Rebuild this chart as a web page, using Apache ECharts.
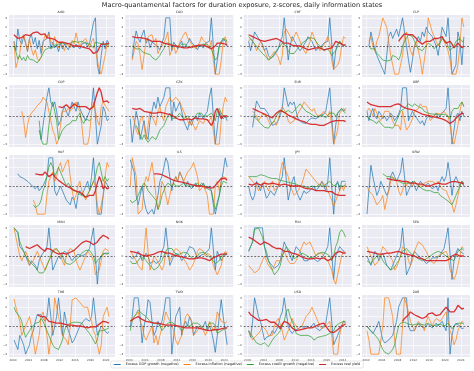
<!DOCTYPE html>
<html><head><meta charset="utf-8">
<script src="https://cdn.jsdelivr.net/npm/echarts@6/dist/echarts.min.js"></script>
<style>html,body{margin:0;padding:0;background:#fff}#c{width:474px;height:371px}</style>
</head><body><div id="c"></div>
<script>
const n = null;
const MAIN_TITLE = 'Macro-quantamental factors for duration exposure, z-scores, daily information states';
const SERIES_NAMES = ['Excess GDP growth (negative)','Excess inflation (negative)','Excess credit growth (negative)','Excess real yield'];
const NAMES = ['AUD','CAD','CHF','CLP','COP','CZK','EUR','GBP','HUF','ILS','JPY','KRW','MXN','NOK','PLN','SEK','THB','TWD','USD','ZAR'];
const X_TICKS = [2000,2004,2008,2012,2016,2020,2024];
const Y_TICKS = [-3,-2,-1,0,1,2,3];
const DATES = [2000.25,2000.75,2001.25,2001.75,2002.25,2002.75,2003.25,2003.75,2004.25,2004.75,
 2005.25,2005.75,2006.25,2006.75,2007.25,2007.75,2008.25,2008.75,2009.25,2009.75,
 2010.25,2010.75,2011.25,2011.75,2012.25,2012.75,2013.25,2013.75,2014.25,2014.75,
 2015.25,2015.75,2016.25,2016.75,2017.25,2017.75,2018.25,2018.75,2019.25,2019.75,
 2020.25,2020.75,2021.25,2021.75,2022.25,2022.75,2023.25,2023.75,2024.25,2024.75];

const AUD_GDP=[0.5,-0.5,1.8,0.6,0.2,1.0,0.3,-0.6,0.8,1.2, 0.2,0.9,-0.3,0.6,-0.8,0.5,0.4,0.8,1.5,-0.3, 0.4,-0.2,0.1,-0.6,0.3,-0.3,0.2,0.0,-0.4,0.1, 0.3,-0.2,0.2,0.0,-0.3,0.2,0.1,0.4,-0.1,0.3, 0.3,2.5,3.0,-2.0,-3.0,-1.0,0.5,-0.3,0.6,0.3];
const AUD_INF=[0.5,-2.3,-2.4,-0.8,0.9,1.2,0.4,-0.6,0.8,-0.3, -1.0,-0.4,-1.3,-1.6,-1.2,0.2,1.2,0.8,1.3,0.5, 0.2,1.0,0.3,-0.2,0.4,0.0,-0.5,0.3,0.1,-0.2, 0.6,0.2,1.4,0.5,-0.1,0.4,0.2,0.8,1.0,-0.2, 0.5,0.8,-0.5,-1.5,-2.5,-3.0,-3.0,-1.0,0.2,0.0];
const AUD_CRD=[0.0,-0.6,-1.4,-1.0,-1.5,-1.2,-1.6,-1.0,-1.4,-1.2, -1.5,-1.7,-1.8,-1.6,-1.2,-0.8,-0.4,-0.6,-0.2,0.0, -0.2,0.1,-0.1,0.2,0.0,0.3,0.1,0.2,0.4,0.3, 0.2,0.5,0.3,0.4,0.2,0.5,0.6,0.3,0.4,0.2, 0.0,-0.2,0.4,0.6,0.3,0.5,0.2,0.4,0.1,0.2];
const AUD_RYL=[1.2,1.0,0.8,0.7,0.9,1.1,1.2,1.0,1.1,1.3, 1.4,1.5,1.5,1.6,1.2,1.0,1.3,0.9,0.7,0.8, 0.6,0.7,0.5,0.4,0.3,0.4,0.2,0.3,0.1,0.2, 0.1,0.0,0.1,0.0,0.1,-0.1,0.0,-0.2,-0.1,-0.3, -0.5,-0.8,-1.0,-0.6,-0.2,0.2,0.3,0.2,0.4,0.3];

const CAD_GDP=[n,-1.3,0.5,1.6,0.8,0.4,1.2,1.7,0.3,0.8, -0.2,0.4,0.6,0.1,0.0,-0.4,0.3,0.9,3.0,3.0, 3.0,-0.5,0.4,0.1,-0.3,0.2,0.5,-0.2,0.0,0.3, 0.8,0.4,0.2,-0.1,-0.4,0.1,0.0,-0.2,0.3,0.1, 0.5,3.0,3.0,-3.0,-1.5,0.0,0.3,0.8,0.5,0.0];
const CAD_INF=[n,-1.5,-0.5,0.5,0.2,-1.0,-2.5,-1.0,0.5,1.0, 0.8,1.2,0.4,0.8,-0.8,-0.3,-0.5,0.3,0.8,1.5, -1.0,-0.4,0.0,-0.8,-0.3,0.4,0.8,1.2,1.5,0.9, 0.5,0.2,0.0,-0.3,-0.5,0.3,1.0,0.6,0.5,0.2, -0.2,0.6,-1.5,-3.0,-3.0,-3.0,-1.5,0.5,1.0,0.3];
const CAD_CRD=[n,0.0,-0.2,-0.3,-0.5,-0.3,-0.6,-0.8,-0.8,-1.0, -0.9,-1.2,-1.3,-1.5,-1.4,-1.0,-0.6,-0.3,0.3,0.5, 0.3,0.0,-0.2,0.1,-0.2,0.0,0.2,0.1,0.2,-0.1, -0.3,-0.2,-0.3,0.0,0.1,0.0,0.0,0.2,0.2,0.1, 0.2,-0.3,-0.5,-1.5,-1.2,0.0,0.5,0.8,0.8,0.5];
const CAD_RYL=[n,1.0,1.1,0.9,0.8,0.9,0.7,0.8,0.6,0.7, 0.6,0.5,0.6,0.5,0.4,0.5,0.5,0.3,0.4,0.2, 0.2,0.1,0.2,0.0,0.0,-0.1,0.0,-0.2,-0.1,-0.2, -0.2,-0.1,-0.2,0.0,0.0,0.1,0.0,0.1,0.0,-0.1, -0.2,-0.3,-0.3,0.0,0.3,0.4,0.3,0.2,0.2,0.1];

const CHF_GDP=[0.5,-0.5,-0.5,1.5,1.5,0.8,1.0,0.2,-0.5,-0.2, -1.0,-1.3,-1.5,-1.0,-0.8,-0.3,0.5,1.0,3.0,3.0, -1.5,0.0,1.0,0.6,0.5,-0.2,-0.5,-0.2,0.0,0.5, 1.0,0.8,0.5,0.0,-0.5,-0.2,-0.3,0.0,0.3,0.2, 0.5,3.0,3.0,-2.5,-0.5,0.2,0.5,0.3,0.0,0.2];
const CHF_INF=[0.5,0.8,1.0,0.2,-0.5,0.0,0.5,0.0,-0.5,-1.0, -1.5,-1.2,-1.0,-0.6,-0.5,-1.2,-2.0,-1.0,1.5,1.8, 2.0,1.0,0.5,1.0,1.5,1.0,0.5,0.0,-0.5,-0.8, -1.0,0.5,1.5,1.0,0.5,0.0,-0.5,-0.2,0.0,0.5, 1.0,0.3,-1.5,-2.5,-2.5,-2.0,-1.5,0.0,1.0,0.8];
const CHF_CRD=[1.0,0.8,0.5,0.2,0.0,-0.3,-0.5,-0.8,-1.0,-1.2, -1.5,-1.4,-1.2,-0.8,-0.5,-0.2,0.0,0.3,0.5,0.0, -0.5,-0.8,-1.0,-0.8,-0.5,-0.2,0.0,0.3,0.5,0.6, 0.8,0.9,1.0,0.8,0.5,0.2,0.0,-0.2,-0.5,-0.4, -0.3,-0.6,-1.0,-0.8,-0.5,0.0,0.5,0.3,0.0,0.1];
const CHF_RYL=[1.2,1.1,1.0,0.9,0.8,0.7,0.6,0.5,0.5,0.6, 0.6,0.7,0.7,0.8,0.8,0.7,0.6,0.4,0.3,0.3, 0.3,0.2,0.1,0.0,0.0,0.1,0.0,-0.1,-0.2,-0.3, -0.4,-0.4,-0.3,-0.3,-0.2,-0.2,-0.2,-0.3,-0.4,-0.4, -0.3,-0.3,-0.2,0.1,0.5,0.4,0.3,0.2,0.1,0.1];

const CLP_GDP=[n,0.0,1.5,0.5,-0.5,-1.0,-1.0,-2.0,-2.5,-3.0, -1.0,1.0,1.5,0.8,1.0,1.8,1.0,2.0,3.0,3.0, 0.0,-1.5,-2.8,-1.5,0.0,0.5,1.0,0.5,1.5,1.0, 2.0,1.5,1.5,1.0,0.5,0.0,-1.0,0.5,2.0,1.5, 1.0,3.0,3.0,-3.0,-3.0,-2.0,1.5,0.5,-2.0,1.0];
const CLP_INF=[n,0.5,1.0,0.0,-0.5,0.5,1.0,2.0,3.0,3.0, 2.0,0.5,-1.0,-2.0,-3.0,-3.0,-3.0,-3.0,-1.0,1.0, 1.5,0.5,-0.5,-1.0,0.0,0.5,-0.5,-1.5,-3.0,-3.0, 0.0,3.0,3.0,1.5,1.0,0.5,0.0,0.5,1.0,0.5, 0.0,-0.5,-1.5,-3.0,-3.0,-3.0,-2.0,0.0,3.0,2.0];
const CLP_CRD=[n,0.0,-0.3,-0.5,-0.3,-0.8,-1.0,-1.2,-1.5,-1.3, -1.6,-1.4,-1.5,-1.0,-0.8,-1.2,-1.5,-1.0,0.0,0.5, 0.5,1.2,1.3,1.0,0.5,0.0,-0.3,-0.5,-0.5,-0.2, 0.0,0.3,0.3,0.0,-0.3,0.0,0.0,0.3,0.8,1.0, 0.5,0.3,-0.5,-0.3,0.0,0.5,0.3,0.8,0.5,0.5];
const CLP_RYL=[n,n,n,n,n,n,n,n,n,n, n,n,n,n,n,n,0.5,0.8,1.0,1.3, 1.5,1.2,1.0,1.2,1.0,0.8,0.5,0.3,0.2,0.3, 0.5,0.4,0.5,0.6,0.8,0.7,0.8,1.0,1.0,0.6, 0.3,0.4,0.5,0.2,-0.2,0.0,0.3,0.1,-0.2,0.0];

const COP_GDP=[n,n,n,n,n,n,n,n,n,n, n,n,n,-1.5,-2.5,-1.0,0.5,2.0,3.0,1.5, 1.0,1.5,0.5,-1.0,-0.5,0.5,1.0,0.5,0.0,0.8, 1.5,1.0,0.5,1.5,0.8,0.3,0.5,-0.5,0.0,0.5, 1.0,3.0,3.0,-3.0,-3.0,-1.0,1.0,0.5,-0.5,-0.3];
const COP_INF=[n,n,n,n,0.5,-0.5,-2.3,-1.0,0.0,0.3, 0.5,0.8,1.1,1.0,1.5,2.0,2.2,1.5,0.5,-0.5, -1.5,-2.0,-3.0,-2.5,-1.0,0.5,0.3,0.5,0.8,0.5, 0.3,1.0,1.5,0.8,0.5,-1.0,-3.0,-3.0,-3.0,-2.0, 0.5,1.5,0.5,-0.5,-1.0,1.0,1.5,1.5,0.8,0.5];
const COP_CRD=[n,n,n,n,n,n,n,n,n,n, n,n,n,-0.5,-2.5,-3.0,-3.0,-3.0,-1.0,0.5, 1.5,0.5,-0.5,-2.5,-2.5,-1.5,-1.5,-1.0,-1.2,-0.8, -0.5,-0.3,-0.5,0.0,0.3,-0.5,-0.8,-0.3,-0.5,-0.5, -0.3,n,n,n,n,n,n,n,n,n];
const COP_RYL=[n,n,n,n,n,n,n,n,n,n, n,n,n,n,n,n,n,n,n,n, n,n,n,1.0,1.1,0.9,1.0,1.2,1.0,0.8, 1.0,1.3,1.2,1.0,0.9,1.0,0.8,1.0,0.9,0.7, 0.5,1.0,1.8,2.5,3.0,2.5,1.5,1.5,1.6,1.4];

const CZK_GDP=[-0.3,-2.8,-1.0,0.5,-0.5,-2.5,-1.5,-0.5,-2.0,-2.5, -0.5,0.5,1.5,0.8,2.0,1.0,1.5,2.0,3.0,3.0, 3.0,-0.5,1.5,0.5,1.0,1.5,0.5,-0.5,-1.0,-1.5, -0.5,-1.0,-0.3,0.0,-0.5,0.3,0.0,-0.3,0.2,0.5, 2.0,3.0,3.0,-3.0,-3.0,0.5,0.0,-0.3,0.0,-0.5];
const CZK_INF=[n,0.0,-0.5,-1.5,-2.0,-0.5,0.0,-1.0,-2.5,-1.0, 0.5,0.0,-0.5,-1.0,0.5,1.0,0.0,-0.5,1.0,1.5, 2.0,1.5,1.5,2.0,1.8,1.5,1.0,0.5,0.0,-0.5, -1.0,-0.5,-1.0,-1.5,-1.0,-0.5,-0.5,-0.8,-0.3,-0.5, -0.5,0.0,-1.5,-3.0,-3.0,-3.0,-0.5,1.0,2.0,1.5];
const CZK_CRD=[n,n,n,-1.0,-1.5,-2.0,-2.5,-2.0,-2.5,-2.8, -2.5,-2.2,-2.0,-2.5,-2.0,-1.5,-1.5,-1.0,-0.5,0.0, 0.3,-0.3,-0.5,-0.2,0.0,0.3,0.0,-0.3,-0.3,0.0, -0.2,-0.5,-0.3,0.0,0.3,0.2,0.3,0.0,-0.2,0.0, -0.2,0.3,0.0,-0.5,0.5,0.8,0.3,0.0,0.0,-0.2];
const CZK_RYL=[n,0.8,0.9,0.7,0.6,0.8,0.7,0.5,0.6,0.4, 0.4,0.3,0.4,0.3,0.2,0.4,0.5,0.3,0.3,0.2, 0.2,0.1,0.0,-0.2,-0.3,-0.4,-0.3,-0.4,-0.4,-0.3, -0.3,-0.4,-0.3,-0.2,-0.2,-0.3,-0.2,-0.3,-0.3,-0.4, -0.5,-1.0,-0.6,0.5,0.8,0.2,-0.3,0.0,-0.2,0.0];

const EUR_GDP=[n,n,-1.2,0.3,1.6,1.2,0.8,1.0,0.8,0.5, 0.2,-0.5,-1.0,-1.2,-0.8,-0.5,-0.3,0.8,3.0,3.0, 1.0,1.5,1.2,1.5,0.5,-0.3,-0.5,-0.7,-0.6,-0.8, -0.5,-0.3,-0.2,0.0,-0.3,-0.1,0.0,-0.2,0.2,0.5, 0.5,3.0,3.0,-3.0,-1.0,0.3,0.5,0.8,0.5,0.8];
const EUR_INF=[n,n,0.5,0.3,0.0,-0.5,-0.3,0.2,0.3,0.0, -0.5,-1.0,-0.8,-0.5,-1.0,-0.3,0.5,1.0,0.8,0.3, -0.5,-0.8,-0.8,-0.5,0.0,0.3,0.5,1.0,1.5,1.3, 1.0,0.8,0.5,0.8,0.3,0.0,0.0,0.2,0.5,0.3, 0.0,0.5,-1.0,-3.0,-3.0,-1.5,0.3,0.5,0.8,0.5];
const EUR_CRD=[n,n,0.0,0.2,-0.3,-0.5,-0.8,-1.0,-1.2,-1.4, -1.3,-1.0,-0.8,-0.5,0.0,0.3,0.5,0.6,0.3,0.5, 0.6,0.4,0.3,0.5,0.8,1.0,1.3,1.0,0.8,0.5, 0.5,0.3,0.2,0.0,0.0,-0.1,0.0,0.1,0.0,-0.2, 0.0,0.3,0.5,0.3,0.0,0.3,0.5,0.8,0.5,0.3];
const EUR_RYL=[n,n,0.8,0.7,0.6,0.5,0.4,0.3,0.2,0.1, 0.0,-0.1,-0.2,0.0,0.3,0.5,0.6,0.5,0.4,0.2, 0.1,0.0,-0.1,-0.2,-0.3,-0.4,-0.5,-0.6,-0.6,-0.7, -0.8,-0.8,-0.9,-0.8,-0.9,-1.0,-1.0,-0.9,-1.0,-0.8, -0.8,-0.7,-0.6,-0.4,-0.5,-0.3,-0.5,-0.4,-0.5,-0.6];

const GBP_GDP=[0.5,-0.5,0.3,0.8,0.0,-0.3,0.5,0.2,-0.3,0.0, -0.5,-0.2,0.3,0.0,-0.5,-0.3,0.2,0.8,3.0,3.0, 3.0,-0.5,0.0,0.5,0.3,-0.2,-0.5,-0.8,-0.5,-1.0, -0.3,0.0,0.2,-0.2,0.0,0.3,-0.2,0.0,0.3,0.5, 0.8,3.0,3.0,-3.0,-3.0,0.0,0.3,-0.5,0.5,0.0];
const GBP_INF=[0.5,0.8,0.5,0.0,0.8,0.3,-0.2,-0.5,0.0,0.5, 0.3,0.5,0.0,-0.5,-1.0,-0.8,-1.0,-1.5,0.5,-0.5, -1.5,-1.2,-0.8,-0.3,0.5,0.3,0.8,1.3,1.0,1.2, 1.0,0.8,-0.5,-0.3,0.0,0.3,0.5,0.2,0.0,0.5, 0.5,0.0,-1.0,-2.5,-3.0,-3.0,-1.0,0.5,1.5,1.0];
const GBP_CRD=[0.0,-0.3,-0.3,-0.5,-0.5,-0.8,-0.5,-0.8,-1.0,-1.2, -1.3,-1.2,-1.2,-1.3,-1.0,-0.5,0.0,0.5,0.5,0.8, 1.0,1.3,1.2,1.0,1.3,1.2,1.0,1.2,0.8,0.5, 0.5,0.3,0.3,0.2,0.0,0.2,0.3,0.1,0.0,0.2, 0.3,0.0,-0.3,0.5,0.8,1.0,0.8,1.2,1.5,1.0];
const GBP_RYL=[1.5,1.3,1.2,1.3,1.1,1.0,1.0,1.1,1.0,0.9, 1.0,0.9,1.0,1.1,1.2,1.3,1.3,1.2,1.0,0.9, 0.8,0.8,0.7,0.7,0.6,0.5,0.4,0.3,0.2,0.1, 0.1,0.0,0.0,-0.1,-0.1,-0.2,-0.2,-0.3,-0.3,-0.4, -0.5,-0.6,-0.8,-0.7,-0.5,-0.3,0.0,0.2,0.3,0.2];

const HUF_GDP=[n,n,1.3,1.0,0.9,0.8,0.7,0.5,0.3,0.1, 0.0,-0.3,0.0,-0.5,-0.3,0.0,0.5,1.0,3.0,3.0, 3.0,-0.5,-1.0,-0.5,0.0,-0.5,-1.0,-1.5,-1.5,-2.0, -1.2,-1.5,-2.4,-1.0,-0.5,-1.0,-0.5,0.0,0.5,-0.5, 1.0,3.0,3.0,-3.0,-3.0,-3.0,-1.0,0.5,0.3,-0.2];
const HUF_INF=[n,n,n,n,n,n,n,n,n,n, -1.5,-2.0,-3.0,-3.0,-3.0,-3.0,-3.0,-1.0,0.5,1.0, 1.5,0.5,1.0,2.0,2.5,1.5,2.0,2.5,2.8,1.0, -0.5,-1.5,-1.0,0.0,0.5,-0.5,-1.0,-1.5,-1.0,-0.5, 0.0,0.5,0.0,-2.0,-3.0,-3.0,-1.0,1.0,2.5,2.0];
const HUF_CRD=[n,n,n,n,n,n,n,n,n,n, -2.0,-2.3,-2.5,-2.0,-1.5,-0.5,0.0,1.0,2.0,2.5, 2.0,1.0,1.5,2.0,1.5,1.0,0.5,0.0,0.3,0.0, -0.3,-0.5,-0.5,-0.8,-0.8,-1.0,-1.0,-1.2,-1.0,-0.5, 0.0,0.5,1.0,2.0,2.5,1.5,0.5,1.0,0.5,0.8];
const HUF_RYL=[n,n,n,n,n,n,n,n,n,n, n,1.3,1.5,1.2,1.0,1.2,1.5,1.3,1.0,1.2, 1.3,1.0,0.8,0.6,0.5,0.3,0.2,0.0,0.0,-0.2, -0.3,-0.5,-0.5,-0.6,-0.7,-0.8,-1.0,-1.2,-1.2,-1.0, -0.8,-1.0,-0.5,0.3,1.0,0.5,-0.3,0.0,-0.3,-0.2];

const ILS_GDP=[2.8,3.0,1.5,-1.0,-2.0,-1.0,0.0,-1.5,-2.5,-3.0, -3.0,-2.5,-3.0,-2.0,-1.0,0.5,1.0,2.0,3.0,2.5, 1.0,-0.5,0.5,1.0,0.5,1.5,1.0,0.5,0.0,0.5, 0.0,-0.3,0.0,0.3,0.0,-0.2,0.0,0.3,-0.3,-0.5, 0.0,-0.5,-2.0,-3.0,-3.0,-1.0,0.5,1.5,3.0,2.0];
const ILS_INF=[0.0,3.0,3.0,1.0,-3.0,-3.0,-2.5,0.0,1.0,0.5, 1.5,2.5,1.0,-1.0,-2.5,-1.5,0.5,0.0,-1.0,-2.0, -1.0,0.0,0.5,1.0,0.5,1.5,1.0,0.5,0.5,1.5, 1.5,2.0,2.5,2.5,1.0,-0.5,-0.5,0.0,-0.5,-1.0, -3.0,-3.0,-3.0,0.0,0.5,-0.5,0.5,1.0,1.0,0.8];
const ILS_CRD=[-1.5,-1.8,-2.0,-1.5,-1.0,-0.5,0.0,0.3,0.0,-0.5, -0.5,-1.0,-0.8,-1.5,-2.5,-2.0,-1.0,-0.5,0.0,0.3, 0.2,0.0,0.3,0.0,0.2,0.0,0.1,0.3,0.0,0.2, 0.0,0.1,0.0,0.2,0.3,0.0,0.3,0.2,0.0,-0.3, -0.3,-0.5,-1.5,-2.5,-2.5,-1.0,0.0,0.5,0.5,0.3];
const ILS_RYL=[n,n,n,n,n,n,n,n,n,n, n,n,1.3,1.5,1.3,1.2,1.2,1.0,1.0,0.8, 0.8,0.7,0.6,0.5,0.5,0.4,0.4,0.3,0.3,0.2, 0.2,0.2,0.1,0.2,0.0,0.1,0.0,0.0,-0.1,-0.2, -0.2,-0.3,-0.2,0.0,0.3,0.5,0.8,0.8,0.8,0.6];

const JPY_GDP=[0.0,-1.0,-1.5,-1.0,0.5,0.0,-0.5,0.3,-0.5,-1.3, -1.0,-0.5,-0.3,-1.0,-0.5,0.0,0.5,1.0,3.0,3.0, -1.5,-0.5,0.5,1.0,-0.5,-1.0,-1.5,-1.0,-0.5,-0.8, -1.0,-0.5,-0.3,0.0,-0.5,-0.3,0.0,0.5,0.3,-0.5, 0.5,3.0,3.0,-3.0,0.0,0.5,-0.5,0.5,0.3,0.5];
const JPY_INF=[1.0,0.8,0.5,0.3,0.0,-0.5,-0.3,0.2,0.5,0.0, -0.5,0.0,0.5,-0.5,-0.5,0.0,1.5,2.5,2.5,1.5, 1.0,0.0,-0.5,-1.0,-1.0,-0.5,-0.5,0.3,1.0,1.8, 1.8,1.3,1.0,0.8,0.5,0.3,0.0,0.5,0.3,0.0, -0.5,-1.0,-1.5,-2.2,-2.0,-1.0,-0.5,0.0,-0.5,0.3];
const JPY_CRD=[1.0,1.1,1.0,0.9,1.0,1.1,1.2,1.0,1.1,1.0, 0.9,1.0,0.8,0.9,0.8,0.7,0.6,0.5,0.5,0.4, 0.4,0.3,0.3,0.2,0.2,0.1,0.0,0.1,0.0,-0.1, -0.2,-0.1,0.0,-0.2,-0.1,0.0,0.2,0.0,-0.1,0.2, 0.3,0.5,0.3,0.0,0.2,0.3,0.0,0.2,0.0,0.1];
const JPY_RYL=[0.2,0.3,0.1,0.2,0.3,0.2,0.1,0.2,0.3,0.2, 0.2,0.1,0.3,0.2,0.2,0.3,0.1,0.2,0.2,0.0, 0.1,0.0,0.0,-0.1,0.0,0.1,0.0,-0.1,-0.2,-0.3, -0.3,-0.2,-0.3,-0.4,-0.5,-0.4,-0.5,-0.6,-0.5,-0.6, -0.6,-0.7,-0.6,-0.8,-0.9,-0.8,-1.0,-1.1,-1.0,-1.0];

const KRW_GDP=[-3.0,-3.0,2.2,1.0,0.0,-1.0,-0.5,0.5,0.0,-0.5, -1.0,-0.5,1.0,1.5,1.0,0.5,1.0,1.5,3.0,3.0, -1.0,-0.5,0.0,0.5,0.5,-0.5,0.0,0.5,0.3,0.0, -0.2,0.3,0.0,-0.3,-0.5,0.0,-0.5,0.5,1.0,0.5, 1.0,2.5,1.0,-1.0,0.5,1.0,0.5,0.0,0.5,0.0];
const KRW_INF=[0.0,-0.5,-0.5,-1.0,-1.5,-2.0,-2.0,-1.5,-1.0,-2.5, -1.5,-0.5,0.5,1.0,1.0,0.5,-0.5,-1.0,-0.5,0.5, 0.0,0.5,0.3,0.0,0.5,0.3,0.0,0.2,0.0,0.3, 0.3,0.5,0.3,0.5,0.5,0.2,0.5,0.0,-0.3,-0.5, -0.5,-1.0,-1.0,-2.0,-2.8,-2.0,-1.0,0.0,0.5,0.3];
const KRW_CRD=[n,n,n,n,n,n,n,n,1.3,1.2, 1.0,1.1,1.0,0.8,0.7,0.5,0.5,0.4,0.3,0.5, 0.3,0.2,0.3,0.5,0.5,0.3,0.0,-0.2,-0.3,-0.4, -0.5,-0.6,-0.5,-0.7,-0.7,-0.8,-0.7,-1.0,-1.2,-1.3, -1.5,-1.6,-1.8,-2.0,-1.8,-1.0,-0.5,0.0,0.5,0.3];
const KRW_RYL=[n,n,n,n,n,n,n,n,n,n, 0.8,0.9,0.7,0.8,0.6,0.7,0.6,0.5,0.5,0.6, 0.5,0.4,0.3,0.4,0.3,0.2,0.2,0.3,0.2,0.1, 0.0,0.1,0.0,0.1,0.2,0.3,0.3,0.2,0.2,0.0, 0.2,0.3,0.4,0.5,0.5,0.3,0.4,0.3,0.3,0.2];

const MXN_GDP=[3.0,3.0,2.5,1.0,1.0,0.5,0.5,-0.5,-1.0,-0.5, -0.5,-1.0,-1.5,-0.5,0.0,0.3,0.5,1.0,3.0,3.0, -1.5,-1.0,-0.5,0.0,-0.3,0.2,0.5,0.3,0.2,-0.2, -0.5,-0.2,0.0,0.2,0.3,0.0,-0.2,0.2,0.5,0.8, 1.0,3.0,3.0,-3.0,-0.5,0.0,0.0,0.3,0.5,0.3];
const MXN_INF=[3.0,2.0,1.0,0.0,-0.5,0.0,0.5,0.0,-1.0,-0.8, -0.5,0.0,0.5,0.0,-0.5,-1.0,-1.5,-1.0,-0.5,0.0, 0.5,0.8,1.0,0.5,0.0,-0.5,-1.0,0.0,0.5,0.8, 0.8,0.5,-0.5,-1.0,-1.5,-1.0,-0.5,0.0,0.5,0.3, 0.0,-0.5,-2.0,-2.0,-1.5,-0.5,0.5,0.8,0.8,0.5];
const MXN_CRD=[3.0,3.0,2.5,1.5,1.0,0.5,0.0,-0.3,-0.5,-0.8, -1.0,-1.2,-1.5,-1.8,-2.0,-1.8,-1.5,-1.0,-0.5,0.0, 0.5,0.6,0.8,0.5,0.3,0.0,-0.5,-0.8,-1.0,-0.9, -0.8,-0.6,-0.5,-0.2,0.0,0.3,0.5,0.6,0.8,0.6, 0.5,0.0,-0.8,-0.5,-0.3,0.0,0.3,0.2,0.2,0.3];
const MXN_RYL=[n,n,n,n,n,n,1.0,0.9,0.8,1.0, 1.0,1.2,1.2,1.0,0.8,0.6,0.5,0.8,1.0,0.7, 0.5,0.4,0.3,0.2,0.2,0.3,0.3,0.2,0.2,0.4, 0.5,0.6,0.8,1.0,1.2,1.4,1.5,1.6,1.8,1.5, 1.3,1.2,1.2,1.5,1.8,2.0,2.2,2.0,2.0,1.8];

const NOK_GDP=[0.0,-0.3,-0.5,0.0,0.5,0.2,-0.5,-0.2,0.3,0.0, -0.8,-0.6,-0.5,-0.8,-1.0,-0.5,0.5,1.0,3.0,3.0, -1.0,-0.5,0.0,0.3,0.5,0.0,-0.5,-0.2,0.0,0.5, 1.0,1.2,0.8,0.3,-0.3,0.0,0.0,0.2,0.3,0.5, 0.8,3.0,3.0,-1.5,0.5,0.0,-0.5,0.0,0.0,0.2];
const NOK_INF=[0.5,0.2,0.0,-0.5,-1.0,-1.2,-1.5,0.5,3.0,0.5, -1.5,-0.8,0.0,-0.3,-0.5,-1.0,-1.5,-1.0,0.5,0.0, -0.5,0.0,0.5,0.8,1.0,0.5,0.0,-0.3,-0.5,-1.0, -1.5,-1.2,-1.0,-0.3,0.5,0.8,1.0,0.5,0.0,0.3, 0.5,0.0,-1.0,-1.5,-2.0,-1.5,-1.0,0.0,0.5,0.3];
const NOK_CRD=[-0.5,-0.8,-1.0,-0.8,-0.5,-0.2,0.0,-0.2,-0.5,-0.8, -1.0,-1.2,-1.5,-1.3,-1.2,-0.8,-0.5,0.0,0.5,0.8, 1.0,0.8,0.5,0.2,0.0,0.2,0.3,0.4,0.5,0.3, 0.0,-0.2,-0.3,-0.2,0.0,0.3,0.5,0.4,0.3,0.1, 0.0,-0.3,-0.5,-0.8,-1.0,-0.5,0.0,0.2,0.3,0.2];
const NOK_RYL=[0.5,0.4,0.4,0.3,0.3,0.2,0.1,0.0,0.0,0.1, 0.1,0.2,0.2,0.3,0.4,0.5,0.5,0.4,0.3,0.3, 0.3,0.2,0.1,0.0,0.0,-0.1,-0.1,-0.2,-0.2,-0.3, -0.3,-0.3,-0.3,-0.2,-0.2,-0.2,-0.2,-0.3,-0.3,-0.4, -0.5,-0.4,-0.2,0.0,0.0,0.1,0.2,0.2,0.2,0.2];

const PLN_GDP=[0.5,1.0,1.5,3.0,3.0,3.0,3.0,3.0,1.0,0.0, -0.5,-0.8,-1.0,-1.3,-1.5,-1.0,-0.5,0.5,1.5,1.0, 0.5,0.0,-0.5,0.3,1.0,0.8,0.5,0.0,-0.5,-0.3, -0.5,-0.2,0.0,-0.3,-0.5,-0.6,-0.5,-0.2,0.0,0.5, 1.0,3.0,3.0,-2.5,0.0,0.5,1.0,0.8,0.5,0.3];
const PLN_INF=[-1.0,-1.2,-1.5,-1.8,-2.0,-1.5,-1.0,-0.5,0.0,-0.5, -1.0,-1.2,-1.5,-1.0,-0.5,-0.3,-0.5,0.0,0.5,0.0, -0.5,-0.8,-1.0,-0.8,-0.5,0.0,0.5,1.0,1.5,1.2, 1.3,1.5,1.0,0.5,0.0,0.3,0.5,0.3,0.0,-0.2, -0.5,-0.3,-1.5,-2.5,-3.0,-3.0,-1.0,0.0,0.5,0.3];
const PLN_CRD=[0.5,1.0,1.5,2.8,3.0,3.0,2.8,2.0,1.0,0.5, -0.5,-1.0,-1.5,-2.0,-2.0,-1.5,-1.0,0.0,0.5,1.0, 1.0,0.5,0.0,-0.3,-0.3,0.0,0.0,0.3,0.3,0.1, 0.0,-0.2,-0.3,-0.1,0.0,0.2,0.3,0.4,0.5,0.3, 0.2,0.0,-0.5,0.0,1.0,1.5,2.5,2.8,2.5,2.0];
const PLN_RYL=[2.0,1.9,1.8,1.6,1.5,1.3,1.2,1.4,1.5,1.4, 1.3,1.1,1.0,0.9,0.8,0.9,0.8,0.7,0.5,0.6, 0.5,0.4,0.3,0.3,0.2,0.1,0.0,-0.1,-0.2,-0.2, -0.3,-0.3,-0.3,-0.2,-0.2,-0.3,-0.3,-0.2,-0.2,-0.3, -0.5,-0.4,-0.3,0.0,0.3,0.4,0.5,0.4,0.3,0.3];

const SEK_GDP=[0.0,-0.5,-1.0,-0.3,0.5,0.2,-0.5,0.0,0.3,-0.3, -1.0,-1.2,-1.5,-1.0,-0.5,0.0,0.5,1.0,3.0,3.0, -2.0,-1.5,-1.0,0.0,0.5,0.3,0.0,-0.2,-0.3,-0.5, -0.8,-0.6,-0.5,-0.2,0.0,-0.2,-0.3,0.0,0.5,0.8, 1.0,3.0,3.0,-2.5,-0.5,0.3,0.8,0.5,0.3,0.2];
const SEK_INF=[1.0,0.5,0.0,-0.5,-1.0,-0.8,-0.5,0.3,1.0,0.8, 0.5,0.2,0.0,-0.5,-1.5,-1.2,-1.0,0.0,1.0,0.8, 0.5,-0.5,-1.0,-0.5,0.5,1.0,1.5,1.3,1.2,0.8, 0.5,0.0,-0.5,-0.6,-0.8,-0.5,0.0,0.2,0.3,0.4, 0.5,0.0,-1.5,-2.0,-2.5,-2.0,-1.0,0.0,1.0,0.8];
const SEK_CRD=[-0.5,-0.6,-0.8,-0.5,-0.3,0.0,0.2,0.0,-0.5,-0.8, -1.0,-1.2,-1.5,-1.4,-1.2,-0.8,-0.5,0.0,0.5,0.6, 0.8,0.6,0.3,0.2,0.0,-0.1,-0.3,-0.4,-0.5,-0.4, -0.3,-0.2,0.0,0.1,0.3,0.4,0.5,0.4,0.3,0.2, 0.0,-0.2,-0.3,-0.4,-0.5,0.0,0.5,0.6,0.8,0.6];
const SEK_RYL=[0.5,0.4,0.4,0.3,0.3,0.2,0.2,0.2,0.2,0.3, 0.3,0.3,0.3,0.4,0.4,0.5,0.5,0.4,0.3,0.2, 0.2,0.1,0.1,0.0,0.0,-0.1,-0.2,-0.3,-0.3,-0.4, -0.5,-0.5,-0.5,-0.6,-0.5,-0.5,-0.5,-0.4,-0.5,-0.5, -0.5,-0.4,-0.3,0.0,0.1,0.2,0.1,0.0,0.0,0.0];

const THB_GDP=[-1.5,-2.0,-2.5,-1.0,-1.0,-2.0,-3.0,-2.5,-2.0,-1.0, -0.5,0.5,1.2,1.0,1.2,0.8,0.5,1.0,3.0,3.0, -1.0,0.0,1.0,3.0,3.0,-1.0,1.5,0.5,-0.5,-1.0, -1.8,-1.5,-1.0,-0.5,0.0,0.3,0.5,0.8,1.0,0.5, 1.0,3.0,3.0,-1.0,-0.5,0.0,0.0,-0.5,-0.8,-0.6];
const THB_INF=[2.9,2.0,1.2,0.5,-1.0,-0.5,-0.5,0.5,1.0,0.0, -1.5,-3.0,-3.0,-1.0,1.0,1.5,0.5,-1.0,-3.0,-3.0, 0.0,3.0,3.0,1.0,1.0,-1.0,-1.0,-1.5,-2.0,0.0, 2.8,3.0,3.0,2.8,2.5,2.5,2.0,2.2,2.0,1.0, 0.5,-0.5,-1.0,-2.0,-3.0,-2.0,1.0,1.5,2.0,1.0];
const THB_CRD=[2.0,1.5,1.5,1.0,0.5,-0.5,-1.2,-1.0,-0.5,-0.2, 0.0,0.3,0.5,0.4,0.8,0.5,0.3,-0.5,-1.0,-1.5, -2.0,-2.3,-2.5,-2.5,-2.0,-1.5,-0.5,0.0,0.2,0.3, 0.3,0.4,0.5,0.4,0.5,0.3,0.0,-0.3,-0.5,-0.8, -1.0,-1.5,-1.9,-1.5,-0.5,-0.3,-0.5,-0.4,-0.3,-0.2];
const THB_RYL=[n,n,n,n,n,n,n,n,n,n, n,n,1.2,1.1,1.0,1.1,1.0,0.8,0.5,0.4, 0.4,0.3,0.3,0.4,0.3,0.2,0.2,0.2,0.1,0.2, 0.1,0.0,0.0,0.1,0.0,-0.1,-0.1,-0.2,-0.2,-0.2, -0.1,-0.2,-0.1,0.0,0.2,0.4,0.5,0.6,0.4,0.3];

const TWD_GDP=[0.0,1.0,3.0,3.0,3.0,1.0,-1.8,0.0,1.0,2.8, 2.5,0.5,-1.0,-0.5,0.5,0.0,0.5,1.5,3.0,3.0, 3.0,-3.0,-1.0,1.0,1.5,2.0,-1.0,0.0,0.5,0.0, 1.0,0.5,-1.0,-0.5,0.0,-0.3,-0.5,0.0,0.5,-0.5, 0.0,-0.5,-1.5,-2.8,-1.0,1.0,2.8,1.0,-0.5,-2.0];
const TWD_INF=[0.5,0.8,1.0,1.2,1.5,0.5,0.0,-1.0,-1.5,-1.0, -0.5,0.0,-1.8,-1.0,-2.0,-1.0,-1.0,0.5,1.5,1.0, 0.5,0.0,-0.5,-1.5,-2.0,-1.5,-1.0,0.0,1.0,1.3, 1.5,0.5,-1.0,-0.8,-0.5,0.0,0.0,-0.5,-1.0,-0.5, 0.5,0.3,-0.5,0.0,1.5,1.3,0.5,0.3,0.3,0.5];
const TWD_CRD=[-0.5,0.5,1.0,1.3,1.7,1.5,1.3,1.2,1.0,0.8, 0.5,0.4,0.3,0.4,0.3,0.0,-0.5,-0.3,0.0,0.3, 0.5,0.4,0.3,0.1,0.0,-0.2,-0.5,-0.3,0.0,-0.1, 0.0,0.2,0.3,0.2,0.3,0.1,0.0,-0.2,-0.5,-0.2, 0.3,0.4,0.3,0.0,-0.8,-0.6,-0.5,-0.4,-0.3,-0.2];
const TWD_RYL=[0.5,0.7,0.8,0.9,1.0,0.9,0.7,0.6,0.5,0.4, 0.4,0.3,0.3,0.2,0.3,0.2,0.2,0.1,0.1,0.2, 0.1,0.0,0.1,0.0,0.0,-0.1,-0.1,-0.2,-0.2,-0.1, -0.2,-0.2,-0.2,-0.3,-0.2,-0.3,-0.3,-0.3,-0.4,-0.4, -0.5,-0.5,-0.4,-0.3,-0.4,-0.3,-0.3,-0.2,-0.2,-0.2];

const USD_GDP=[-0.5,-1.2,0.5,3.0,3.0,1.0,0.5,-0.5,-1.5,-1.2, -1.2,-1.0,-0.5,-0.8,-1.0,0.0,1.0,1.5,3.0,3.0, 0.0,-0.5,-0.8,-0.5,-0.5,-0.3,-0.5,0.0,-0.3,0.0, 0.2,-0.2,0.0,0.3,-0.2,0.0,-0.5,-0.3,0.0,0.3, 0.5,3.0,3.0,-2.0,-1.5,-1.0,-0.5,0.0,0.5,0.3];
const USD_INF=[-0.5,-1.0,-1.5,-1.2,-1.0,-0.8,-0.5,0.0,0.0,-0.5, -1.0,-0.8,-1.0,0.0,0.5,0.8,1.0,-0.5,-1.5,-1.0, -0.8,0.0,0.8,0.3,0.0,-0.3,-0.5,0.0,0.5,1.0, 1.0,1.5,2.0,1.5,1.0,0.5,0.0,-0.3,-0.5,0.0, 0.0,0.5,-1.0,-3.0,-3.0,-3.0,-1.0,0.0,0.5,0.5];
const USD_CRD=[-0.5,-0.8,-1.0,-1.5,-1.8,-1.9,-2.0,-1.8,-1.8,-2.0, -2.2,-2.0,-1.5,-1.2,-1.0,-0.8,-0.5,0.0,0.5,1.5, 1.8,1.0,0.5,0.0,-0.8,-0.9,-1.0,-0.9,-1.0,-1.1, -1.0,-1.2,-1.2,-1.5,-1.5,-1.2,-1.0,-1.1,-1.2,-1.0, -1.0,-0.8,-1.0,-0.5,0.0,0.2,0.3,0.4,0.5,0.4];
const USD_RYL=[1.5,1.2,1.0,0.9,0.8,0.6,0.5,0.6,0.8,0.7, 0.5,0.4,0.3,0.4,0.3,0.0,-0.3,0.2,0.5,0.7, 0.3,0.2,-0.2,-0.3,-0.5,-0.4,-0.4,-0.3,-0.3,-0.2, -0.2,-0.2,-0.2,0.0,0.0,0.1,0.2,0.3,0.3,0.1, -0.3,-0.6,-0.8,-0.7,-0.5,-0.4,-0.3,0.0,0.2,0.2];

const ZAR_GDP=[0.0,-0.3,-0.5,-0.8,-0.8,0.0,0.5,-0.5,-1.5,-1.8, -1.8,-1.5,-1.5,-1.0,-0.8,0.5,2.0,2.5,3.0,3.0, 3.0,0.0,-0.5,-0.3,-0.5,0.0,0.3,0.0,0.2,-0.2, 0.0,0.2,0.0,-0.2,0.0,0.3,0.0,0.2,0.5,0.3, -0.5,3.0,-3.0,-1.0,0.0,0.3,0.5,0.0,-0.3,-0.2];
const ZAR_INF=[-0.5,-1.5,-3.0,-3.0,-3.0,-3.0,-3.0,-3.0,0.0,3.0, 3.0,3.0,3.0,1.0,-1.5,-3.0,-3.0,-3.0,-3.0,3.0, 3.0,1.5,0.5,0.0,-0.5,0.0,0.5,0.3,0.0,-0.5, 0.5,1.0,0.5,0.0,0.5,0.8,1.0,0.5,0.8,1.0, 1.5,0.5,-0.5,-1.0,-2.0,-1.5,-0.5,0.0,0.5,0.3];
const ZAR_CRD=[0.0,-0.3,-0.5,-0.7,-0.8,-1.2,-1.5,-2.0,-2.5,-2.8, -3.0,-3.0,-2.8,-2.5,-2.0,-1.0,0.0,0.3,0.5,0.4, 0.5,0.2,0.0,0.1,0.0,0.2,0.3,0.2,0.3,0.1, 0.2,0.3,0.2,0.0,0.0,0.1,0.0,0.2,0.2,0.0, 0.2,0.3,0.0,-0.3,0.0,0.2,0.3,0.1,0.3,0.2];
const ZAR_RYL=[n,n,n,n,n,n,n,n,n,n, n,n,n,n,n,n,n,n,0.5,0.8, 1.0,1.2,1.5,1.3,1.2,1.1,1.0,0.9,0.8,1.0, 1.0,1.3,1.5,1.4,1.3,1.1,1.0,1.2,1.5,1.7, 2.0,1.8,1.5,1.4,1.5,1.8,2.2,2.0,1.8,1.9];

const PANELS = {
  AUD:[AUD_GDP,AUD_INF,AUD_CRD,AUD_RYL], CAD:[CAD_GDP,CAD_INF,CAD_CRD,CAD_RYL],
  CHF:[CHF_GDP,CHF_INF,CHF_CRD,CHF_RYL], CLP:[CLP_GDP,CLP_INF,CLP_CRD,CLP_RYL],
  COP:[COP_GDP,COP_INF,COP_CRD,COP_RYL], CZK:[CZK_GDP,CZK_INF,CZK_CRD,CZK_RYL],
  EUR:[EUR_GDP,EUR_INF,EUR_CRD,EUR_RYL], GBP:[GBP_GDP,GBP_INF,GBP_CRD,GBP_RYL],
  HUF:[HUF_GDP,HUF_INF,HUF_CRD,HUF_RYL], ILS:[ILS_GDP,ILS_INF,ILS_CRD,ILS_RYL],
  JPY:[JPY_GDP,JPY_INF,JPY_CRD,JPY_RYL], KRW:[KRW_GDP,KRW_INF,KRW_CRD,KRW_RYL],
  MXN:[MXN_GDP,MXN_INF,MXN_CRD,MXN_RYL], NOK:[NOK_GDP,NOK_INF,NOK_CRD,NOK_RYL],
  PLN:[PLN_GDP,PLN_INF,PLN_CRD,PLN_RYL], SEK:[SEK_GDP,SEK_INF,SEK_CRD,SEK_RYL],
  THB:[THB_GDP,THB_INF,THB_CRD,THB_RYL], TWD:[TWD_GDP,TWD_INF,TWD_CRD,TWD_RYL],
  USD:[USD_GDP,USD_INF,USD_CRD,USD_RYL], ZAR:[ZAR_GDP,ZAR_INF,ZAR_CRD,ZAR_RYL]
};

// ---- styling / layout ----
const COLORS = ['#1f77b4','#ff7f0e','#2ca02c','#d62728'];
const COL_LEFT = [7, 125.3, 243.7, 362];
const ROW_TOP = [15, 85, 155, 225, 295];
const PW = 108, PH = 62;
const FONT = 'DejaVu Sans';
const fmtY = v => String(v).replace('-', '\u2212');

const grids = [], xAxes = [], yAxes = [], series = [];
const titles = [{
  text: MAIN_TITLE, left: 242, top: 2, textAlign: 'center', padding: 0,
  textStyle: { fontSize: 6.6, fontWeight: 'normal', color: '#262626', fontFamily: FONT }
}];
const bad = [];
NAMES.forEach((name, k) => {
  const r = Math.floor(k / 4), c = k % 4;
  const left = COL_LEFT[c], top = ROW_TOP[r];
  grids.push({ left, top, width: PW, height: PH, show: true, backgroundColor: '#eaeaf2', borderWidth: 0 });
  xAxes.push({
    gridIndex: k, type: 'value', min: 1999.0, max: 2026.3,
    axisLine: { show: false }, axisTick: { show: false, customValues: X_TICKS },
    axisLabel: { show: r === 4, customValues: X_TICKS, fontSize: 2.8, color: '#444', margin: 2, fontFamily: FONT, formatter: v => String(v) },
    splitLine: { show: true, lineStyle: { color: '#ffffff', width: 0.6 } }
  });
  yAxes.push({
    gridIndex: k, type: 'value', min: -3.3, max: 3.3,
    axisLine: { show: false }, axisTick: { show: false, customValues: Y_TICKS },
    axisLabel: { customValues: Y_TICKS, fontSize: 2.8, color: '#444', margin: 2, fontFamily: FONT, formatter: fmtY },
    splitLine: { show: true, lineStyle: { color: '#ffffff', width: 0.6 } }
  });
  titles.push({
    text: name, left: left + PW / 2, top: top - 4.6, textAlign: 'center', padding: 0,
    textStyle: { fontSize: 3.2, fontWeight: 'normal', color: '#262626', fontFamily: FONT }
  });
  PANELS[name].forEach((arr, j) => {
    if (arr.length !== DATES.length) bad.push(name + j + ':' + arr.length);
    const s = {
      type: 'line', name: SERIES_NAMES[j], xAxisIndex: k, yAxisIndex: k,
      data: DATES.map((d, i) => [d, arr[i]]),
      showSymbol: false, symbol: 'none', connectNulls: false, silent: true,
      lineStyle: { width: j === 3 ? 1.3 : 0.9, color: COLORS[j], opacity: j === 3 ? 0.95 : 0.8 },
      itemStyle: { color: COLORS[j] }, z: 2 + j
    };
    if (j === 0) {
      s.markLine = {
        silent: true, symbol: 'none', label: { show: false },
        lineStyle: { color: '#222', type: [2, 1.5], width: 0.7, opacity: 0.9 },
        data: [{ yAxis: 0 }]
      };
    }
    series.push(s);
  });
});

const chart = echarts.init(document.getElementById('c'), null, { renderer: 'canvas' });
chart.setOption({
  animation: false,
  backgroundColor: '#ffffff',
  textStyle: { fontFamily: FONT },
  title: titles,
  grid: grids, xAxis: xAxes, yAxis: yAxes, series,
  legend: {
    data: SERIES_NAMES, left: 'center', top: 361, icon: 'rect',
    itemWidth: 7, itemHeight: 1, itemGap: 4.8, padding: [1.5, 3],
    borderColor: '#cccccc', borderWidth: 0.5, borderRadius: 1.5, backgroundColor: '#ffffff',
    textStyle: { fontSize: 3.5, color: '#262626', fontFamily: FONT }
  }
});
if (bad.length) setTimeout(() => { throw new Error('Length mismatch: ' + bad.join(', ')); }, 0);
</script>
</body></html>
